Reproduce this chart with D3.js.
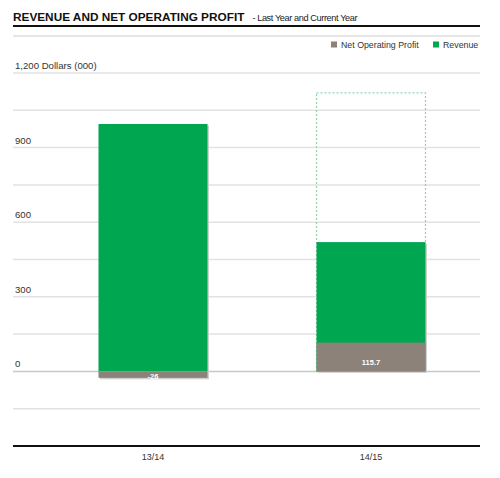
<!DOCTYPE html>
<html>
<head>
<meta charset="utf-8">
<script src="https://cdn.jsdelivr.net/npm/d3@7"></script>
<style>
  body { margin: 0; background: #fff; }
  svg { font-family: "Liberation Sans", Arial, sans-serif; }
</style>
</head>
<body>
<svg id="chart" width="500" height="478"></svg>
<script>
const categories = ["13/14", "14/15"];
const revenue = [995, 520];
const profit = [-26, 115.7];
const projected = [null, 1120];
const tickValues = [0, 300, 600, 900, 1200];
const gridValues = [-300, -150, 0, 150, 300, 450, 600, 750, 900, 1050, 1200];

const left = 13, right = 480;
const green = "#00a650", grey = "#8d8279";

const svg = d3.select("#chart");

// title
const title = svg.append("text").attr("x", left).attr("y", 21).attr("fill", "#111");
title.append("tspan").attr("font-weight", "bold").attr("font-size", 11.8).text("REVENUE AND NET OPERATING PROFIT");
title.append("tspan").attr("dx", 8).attr("font-size", 9.2).attr("letter-spacing", -0.4)
  .attr("fill", "#222").text("- Last Year and Current Year");
svg.append("line").attr("x1", left).attr("x2", right).attr("y1", 26).attr("y2", 26)
  .attr("stroke", "#111").attr("stroke-width", 2);
svg.append("line").attr("x1", left).attr("x2", right).attr("y1", 36).attr("y2", 36)
  .attr("stroke", "#e6e6e6").attr("stroke-width", 2);

// legend
const legend = [
  { name: "Net Operating Profit", color: grey, x: 331 },
  { name: "Revenue", color: green, x: 433 }
];
const lg = svg.append("g").selectAll("g").data(legend).enter().append("g")
  .attr("transform", d => "translate(" + d.x + ",41.5)");
lg.append("rect").attr("width", 6).attr("height", 6).attr("fill", d => d.color);
lg.append("text").attr("x", 10).attr("y", 6.3).attr("font-size", 8.8).attr("fill", "#333").text(d => d.name);

// scales
const y = d3.scaleLinear().domain([-300, 1200]).range([446, 73]);
const x = d3.scaleBand().domain(categories).range([44, 480]).paddingInner(0.5).paddingOuter(0.25);

// gridlines
svg.append("g").selectAll("line").data(gridValues.filter(v => v > -300)).enter().append("line")
  .attr("x1", left).attr("x2", right)
  .attr("y1", d => y(d)).attr("y2", d => y(d))
  .attr("stroke", d => d === 0 ? "#c8c8c8" : "#e2e2e2").attr("stroke-width", 1.5);

// y labels
svg.append("g").selectAll("text").data(tickValues).enter().append("text")
  .attr("x", 15).attr("y", d => y(d) - 4)
  .attr("font-size", 9.6).attr("fill", "#333")
  .text(d => d === 1200 ? d3.format(",")(d) + " Dollars (000)" : d3.format(",")(d));

// projected outline
svg.append("g").selectAll("rect").data(categories.filter((c, i) => projected[i] != null)).enter().append("rect")
  .attr("x", d => x(d)).attr("width", x.bandwidth())
  .attr("y", d => y(projected[categories.indexOf(d)]))
  .attr("height", d => y(0) - y(projected[categories.indexOf(d)]))
  .attr("fill", "none").attr("stroke", "#8fd3ad").attr("stroke-width", 1.2).attr("stroke-dasharray", "2,2");

// bar shadows
svg.append("g").selectAll("rect").data(categories).enter().append("rect")
  .attr("x", d => x(d) + 1.5).attr("width", x.bandwidth())
  .attr("y", (d, i) => y(revenue[i]) + 1.5)
  .attr("height", (d, i) => y(Math.min(0, profit[i])) - y(revenue[i]))
  .attr("fill", "#d0d0d0");

// revenue bars
svg.append("g").selectAll("rect").data(categories).enter().append("rect")
  .attr("x", d => x(d)).attr("width", x.bandwidth())
  .attr("y", (d, i) => y(revenue[i]))
  .attr("height", (d, i) => y(0) - y(revenue[i]))
  .attr("fill", green);

// profit bars
svg.append("g").selectAll("rect").data(categories).enter().append("rect")
  .attr("x", d => x(d)).attr("width", x.bandwidth())
  .attr("y", (d, i) => y(Math.max(0, profit[i])))
  .attr("height", (d, i) => Math.abs(y(profit[i]) - y(0)))
  .attr("fill", grey);

// profit labels
svg.append("g").selectAll("text").data(categories).enter().append("text")
  .attr("x", d => x(d) + x.bandwidth() / 2)
  .attr("y", (d, i) => profit[i] < 0 ? y(profit[i]) + 1 : y(0) - 6)
  .attr("text-anchor", "middle").attr("font-size", 7.5).attr("font-weight", "bold")
  .attr("fill", "#fff")
  .text((d, i) => profit[i]);

// x axis
svg.append("line").attr("x1", left).attr("x2", right).attr("y1", y(-300)).attr("y2", y(-300))
  .attr("stroke", "#111").attr("stroke-width", 2);
svg.append("g").selectAll("text").data(categories).enter().append("text")
  .attr("x", d => x(d) + x.bandwidth() / 2).attr("y", 460)
  .attr("text-anchor", "middle").attr("font-size", 9).attr("fill", "#333")
  .text(d => d);
</script>
</body>
</html>
